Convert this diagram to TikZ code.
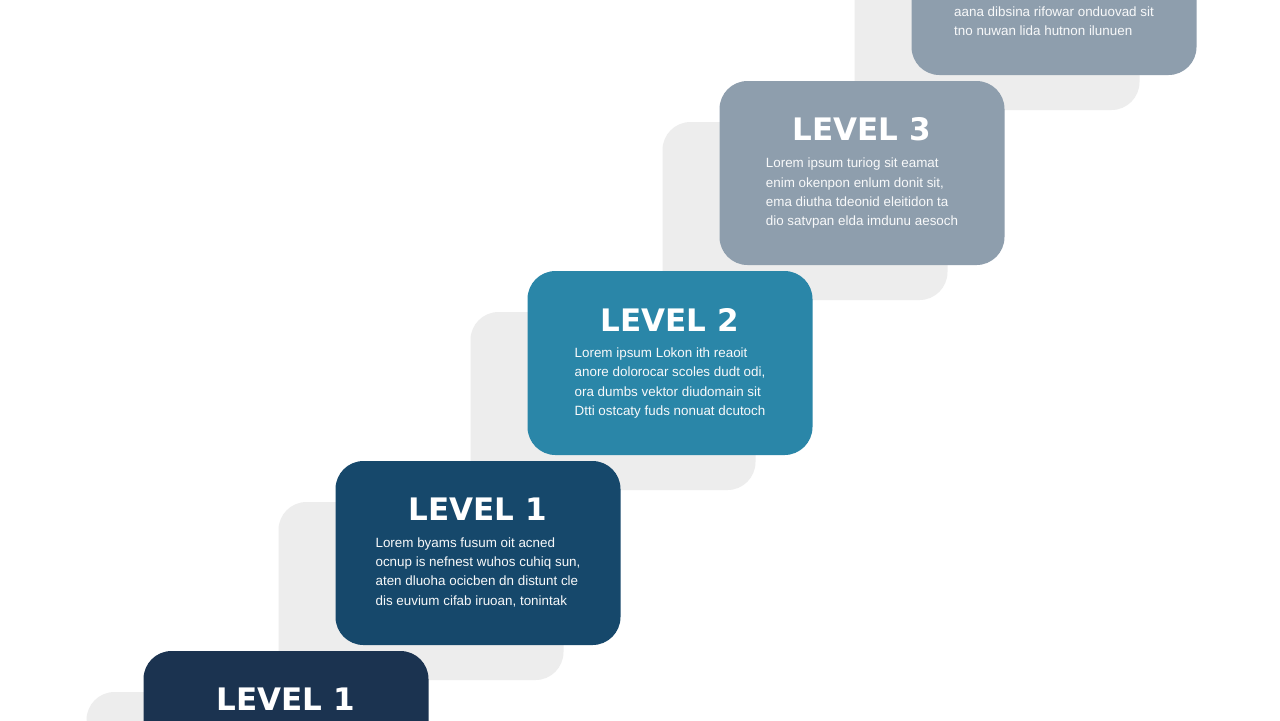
\documentclass[tikz,border=0pt]{standalone}
\usepackage{fontspec}
\setmainfont{DejaVu Sans}
\newfontfamily\bodyfont{Liberation Sans}
\usepackage{xcolor}
\usepackage{tikz}
\usetikzlibrary{positioning}

\definecolor{navydark}{HTML}{1B3350}
\definecolor{navy}{HTML}{16486B}
\definecolor{levelteal}{HTML}{2A86A8}
\definecolor{slate}{HTML}{8E9EAD}
\definecolor{shadowgray}{HTML}{EDEDED}

\tikzset{
	levelbox/.style={rectangle,rounded corners=14pt,minimum width=142.5pt,minimum height=92pt,inner sep=0pt},
	levelshadow/.style={levelbox,minimum height=89pt,fill=shadowgray},
	leveltitle/.style={text=white,font=\fontsize{15.5}{18}\selectfont\bfseries,inner sep=0pt},
	leveltext/.style={text=white!94!slate,font=\bodyfont\fontsize{6.7}{9.6}\selectfont,align=left,inner sep=0pt}
}

\begin{document}
\begin{tikzpicture}[x=0.5pt,y=-0.5pt]
	\fill[white] (0,0) rectangle (1280,720);
	\useasboundingbox (0,0) rectangle (1280,720);
	\clip (0,0) rectangle (1280,720);
	% step centres
	\coordinate (p0) at (286,743);
	\coordinate (p1) at (478,553);
	\coordinate (p2) at (670,363);
	\coordinate (p3) at (862,173);
	\coordinate (p4) at (1054,-17);
	% shadows
	\node[levelshadow] (s0) at ([xshift=-28.5pt,yshift=-19pt]p0) {};
	\node[levelshadow] (s1) at ([xshift=-28.5pt,yshift=-19pt]p1) {};
	\node[levelshadow] (s2) at ([xshift=-28.5pt,yshift=-19pt]p2) {};
	\node[levelshadow] (s3) at ([xshift=-28.5pt,yshift=-19pt]p3) {};
	\node[levelshadow] (s4) at ([xshift=-28.5pt,yshift=-19pt]p4) {};
	% boxes
	\node[levelbox,fill=navydark] (b0) at (p0) {};
	\node[levelbox,fill=navy] (b1) at (p1) {};
	\node[levelbox,fill=levelteal] (b2) at (p2) {};
	\node[levelbox,fill=slate] (b3) at (p3) {};
	\node[levelbox,fill=slate] (b4) at (p4) {};
	% texts
	\node[leveltitle] (t0) at ([yshift=-24.5pt]b0.north) {LEVEL 1};
	\node[leveltitle] (t1) at ([yshift=-24.5pt]b1.north) {LEVEL 1};
	\node[leveltext,below=8pt of t1] (d1) {Lorem byams fusum oit acned\\ocnup is nefnest wuhos cuhiq sun,\\aten dluoha ocicben dn distunt cle\\dis euvium cifab iruoan, tonintak};
	\node[leveltitle] (t2) at ([yshift=-24.5pt]b2.north) {LEVEL 2};
	\node[leveltext,below=8pt of t2] (d2) {Lorem ipsum Lokon ith reaoit\\anore dolorocar scoles dudt odi,\\ora dumbs vektor diudomain sit\\Dtti ostcaty fuds nonuat dcutoch};
	\node[leveltitle] (t3) at ([yshift=-24.5pt]b3.north) {LEVEL 3};
	\node[leveltext,below=8pt of t3] (d3) {Lorem ipsum turiog sit eamat\\enim okenpon enlum donit sit,\\ema diutha tdeonid eleitidon ta\\dio satvpan elda imdunu aesoch};
	\node[leveltext,anchor=north] (d4) at ([yshift=-58pt]b4.north) {aana dibsina rifowar onduovad sit\\tno nuwan lida hutnon ilunuen};
\end{tikzpicture}
\end{document}
